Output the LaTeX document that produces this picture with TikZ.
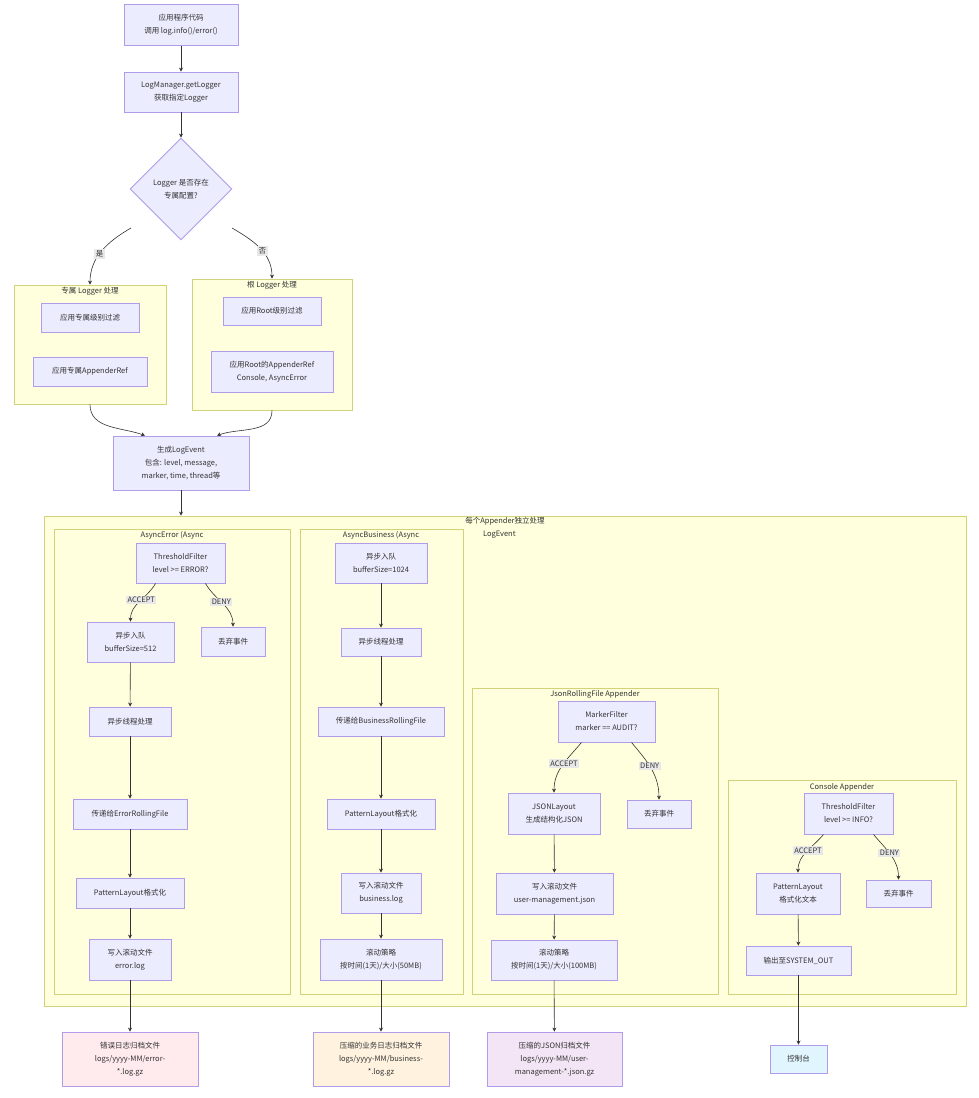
\documentclass[tikz,border=0pt]{standalone}
\usepackage{fontspec}
\setmainfont{Noto Sans CJK SC}
\usetikzlibrary{shapes.geometric,arrows.meta}
\definecolor{nfill}{HTML}{ECECFF}
\definecolor{ndraw}{HTML}{B09CE8}
\definecolor{cfill}{HTML}{FFFFDE}
\definecolor{cdraw}{HTML}{D2D27A}
\definecolor{edge}{HTML}{333333}
\definecolor{lbl}{HTML}{E8E8E8}
\definecolor{pinkf}{HTML}{FFEBEE}
\definecolor{orangef}{HTML}{FFF3E0}
\definecolor{purplef}{HTML}{F3E5F5}
\definecolor{bluef}{HTML}{E1F5FE}
\tikzset{
  box/.style={draw=ndraw,fill=nfill,line width=0.9pt,inner sep=0pt,align=center,text=edge,font=\fontsize{7.5}{13}\selectfont},
  clus/.style={draw=cdraw,fill=cfill,line width=0.9pt,inner sep=0pt},
  ctitle/.style={text=edge,font=\fontsize{7.5}{13}\selectfont,align=center,inner sep=0pt},
  arr/.style={draw=edge,line width=0.6pt,-{Stealth[length=4pt,width=4pt]}},
  elab/.style={fill=lbl,text=edge,inner sep=1.5pt,font=\fontsize{7.5}{9}\selectfont},
  sz/.style 2 args={minimum width=#1,minimum height=#2},
}
\begin{document}
\begin{tikzpicture}[x=1pt,y=-1pt]
\useasboundingbox (0,0) rectangle (978,1098);
\fill[white] (0,0) rectangle (978,1098);
% clusters
\node[clus,sz={152}{119}] (cl1) at (90,344.5) {};
\node[ctitle] (t1) at (90,291) {专属 Logger 处理};
\node[clus,sz={160}{131}] (cl2) at (272,344.5) {};
\node[ctitle] (t2) at (272,285) {根 Logger 处理};
\node[clus,sz={922}{490}] (big) at (505,761) {};
\node[ctitle] (tb) at (505,528) {每个Appender独立处理\\\hspace*{-1.5em}LogEvent};
\node[clus,sz={236}{465}] (ce) at (172,761.5) {};
\node[ctitle] (te) at (172,535) {AsyncError (Async};
\node[clus,sz={163}{465}] (cb) at (381.5,761.5) {};
\node[ctitle] (tbz) at (381,535) {AsyncBusiness (Async};
\node[clus,sz={246}{306}] (cj) at (595,841) {};
\node[ctitle] (tj) at (595,694) {JsonRollingFile Appender};
\node[clus,sz={228}{214}] (cc) at (842,887) {};
\node[ctitle] (tc) at (842,787) {Console Appender};
% top
\node[box,sz={114}{41}] (n1) at (181,25) {应用程序代码\\调用 log.info()/error()};
\node[box,sz={114}{40}] (n2) at (181,92) {LogManager.getLogger\\获取指定Logger};
\node[box,diamond,sz={102}{102}] (d) at (181,189) {Logger 是否存在\\专属配置?};
\node[box,sz={98}{29}] (a1) at (90,317.5) {应用专属级别过滤};
\node[box,sz={114}{29}] (a2) at (90,371.5) {应用专属AppenderRef};
\node[box,sz={98}{28}] (b1) at (272,311) {应用Root级别过滤};
\node[box,sz={122}{41}] (b2) at (272,371.5) {应用Root的AppenderRef\\Console, AsyncError};
\node[box,sz={136}{54}] (le) at (181,463) {生成LogEvent\\包含: level, message,\\marker, time, thread等};
% AsyncError
\node[box,sz={89}{40}] (e1) at (180.5,563) {ThresholdFilter\\level >= ERROR?};
\node[box,sz={87}{40}] (e2) at (130.5,642) {异步入队\\bufferSize=512};
\node[box,sz={64}{29}] (e3) at (233,641.5) {丢弃事件};
\node[box,sz={82}{29}] (e4) at (130,721.5) {异步线程处理};
\node[box,sz={114}{30}] (e5) at (130,814) {传递给ErrorRollingFile};
\node[box,sz={108}{30}] (e6) at (130,893) {PatternLayout格式化};
\node[box,sz={82}{41}] (e7) at (130,959.5) {写入滚动文件\\error.log};
\node[box,sz={136}{54},fill=pinkf] (o1) at (130,1059) {错误日志归档文件\\logs/yyyy-MM/error-\\*.log.gz};
% AsyncBusiness
\node[box,sz={92}{40}] (f1) at (381,563) {异步入队\\bufferSize=1024};
\node[box,sz={80}{28}] (f2) at (381,642) {异步线程处理};
\node[box,sz={126}{29}] (f3) at (381,721.5) {传递给BusinessRollingFile};
\node[box,sz={108}{30}] (f4) at (381,814) {PatternLayout格式化};
\node[box,sz={80}{40}] (f5) at (381,893) {写入滚动文件\\business.log};
\node[box,sz={122}{41}] (f6) at (381,959.5) {滚动策略\\按时间(1天)/大小(50MB)};
\node[box,sz={136}{54},fill=orangef] (o2) at (381,1059) {压缩的业务日志归档文件\\logs/yyyy-MM/business-\\*.log.gz};
% Json
\node[box,sz={97}{41}] (j1) at (606.5,721.5) {MarkerFilter\\marker == AUDIT?};
\node[box,sz={92}{41}] (j2) at (554,813.5) {JSONLayout\\生成结构化JSON};
\node[box,sz={64}{28}] (j3) at (659,814) {丢弃事件};
\node[box,sz={117}{41}] (j4) at (554.5,893.5) {写入滚动文件\\user-management.json};
\node[box,sz={126}{40}] (j5) at (554,960) {滚动策略\\按时间(1天)/大小(100MB)};
\node[box,sz={135}{54},fill=purplef] (o3) at (554.5,1059) {压缩的JSON归档文件\\logs/yyyy-MM/user-\\management-*.json.gz};
% Console
\node[box,sz={89}{41}] (c1) at (848.5,813.5) {ThresholdFilter\\level >= INFO?};
\node[box,sz={84}{41}] (c2) at (798,893.5) {PatternLayout\\格式化文本};
\node[box,sz={65}{27}] (c3) at (898.5,893.5) {丢弃事件};
\node[box,sz={105}{29}] (c4) at (798.5,960.5) {输出至SYSTEM\_OUT};
\node[box,sz={57}{28},fill=bluef] (o4) at (798.5,1059) {控制台};
% edges
\draw[arr] (n1) -- (n2);
\draw[arr] (n2) -- (d);
\coordinate (dl) at (131,228);
\coordinate (dr) at (232,228);
\draw[arr] (dl) to[out=210,in=90] node[elab,pos=0.55] (ly) {是} (cl1.north);
\draw[arr] (dr) to[out=-30,in=90] node[elab,pos=0.55] (ln) {否} (cl2.north);
\draw[arr] (cl1.south) to[out=-90,in=160] ([xshift=-36pt]le.north);
\draw[arr] (cl2.south) to[out=-90,in=20] ([xshift=36pt]le.north);
\draw[arr] (le) -- (big.north -| le);
\draw[arr] ([xshift=-25pt]e1.south) to[out=-120,in=90] node[elab,pos=0.45] (la1) {ACCEPT} (e2.north);
\draw[arr] ([xshift=25pt]e1.south) to[out=-60,in=90] node[elab,pos=0.45] (ld1) {DENY} (e3.north);
\draw[arr] (e2) -- (e4);
\draw[arr] (e4) -- (e5);
\draw[arr] (e5) -- (e6);
\draw[arr] (e6) -- (e7);
\draw[arr] (e7) -- (o1);
\draw[arr] (f1) -- (f2);
\draw[arr] (f2) -- (f3);
\draw[arr] (f3) -- (f4);
\draw[arr] (f4) -- (f5);
\draw[arr] (f5) -- (f6);
\draw[arr] (f6) -- (o2);
\draw[arr] ([xshift=-25pt]j1.south) to[out=-130,in=90] node[elab,pos=0.45] (la2) {ACCEPT} (j2.north);
\draw[arr] ([xshift=25pt]j1.south) to[out=-50,in=90] node[elab,pos=0.45] (ld2) {DENY} (j3.north);
\draw[arr] (j2) -- (j4);
\draw[arr] (j4) -- (j5);
\draw[arr] (j5) -- (o3);
\draw[arr] ([xshift=-25pt]c1.south) to[out=-130,in=90] node[elab,pos=0.45] (la3) {ACCEPT} (c2.north);
\draw[arr] ([xshift=25pt]c1.south) to[out=-50,in=90] node[elab,pos=0.45] (ld3) {DENY} (c3.north);
\draw[arr] (c2) -- (c4);
\draw[arr] (c4) -- (o4);
\end{tikzpicture}
\end{document}
